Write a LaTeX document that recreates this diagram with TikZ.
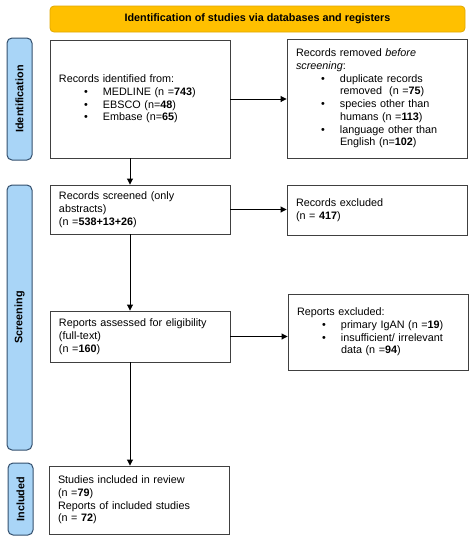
\documentclass[tikz,border=0pt]{standalone}
\usepackage{fontspec}
\setmainfont{Liberation Sans}
\usetikzlibrary{arrows.meta}
\definecolor{bannerfill}{HTML}{FFC000}
\definecolor{bannerdraw}{HTML}{E0A800}
\definecolor{labelfill}{HTML}{A9D5F7}
\definecolor{labeldraw}{HTML}{34506E}
\definecolor{boxdraw}{HTML}{404040}
\newcommand{\bl}[1]{\hspace*{25pt}\makebox[19pt][l]{\textbullet}#1}
\newcommand{\cl}[1]{\hspace*{44pt}#1}
\begin{document}
\begin{tikzpicture}[x=1pt,y=-1pt,
  txt/.style={font=\fontsize{10.8}{12.7}\selectfont},
  box/.style={txt,draw=boxdraw,line width=0.9pt,fill=white,text width=162pt,inner xsep=9pt,inner ysep=0pt,align=left},
  banner/.style={draw=bannerdraw,fill=bannerfill,rounded corners=4pt,line width=0.8pt,minimum width=415pt,minimum height=26pt,font=\fontsize{10.8}{12}\selectfont\bfseries},
  phase/.style={draw=labeldraw,fill=labelfill,rounded corners=5pt,line width=1pt,minimum width=25pt,inner sep=0pt},
  phasetext/.style={rotate=90,font=\fontsize{10.8}{12}\selectfont\bfseries},
  arr/.style={draw=black,line width=0.9pt,-{Triangle[length=6pt,width=6pt]}}]
\useasboundingbox (0,0) rectangle (474,542);
\node[banner] (ban) at (257.5,19) {Identification of studies via databases and registers};
\node[phase,minimum height=122pt] (pid) at (19.5,99) {};
\node[phasetext] (tid) at (pid.center) {Identification};
\node[phase,minimum height=265pt] (psc) at (19.5,317.5) {};
\node[phasetext] (tsc) at (psc.center) {Screening};
\node[phase,minimum height=72pt] (pin) at (20.5,499) {};
\node[phasetext] (tin) at (pin.center) {Included};

\node[box,minimum height=118pt] (b1) at (140,99) {Records identified from:\\
\bl{MEDLINE (n =\textbf{743})}\\
\bl{EBSCO (n=\textbf{48})}\\
\bl{Embase (n=\textbf{65})}};
\node[box,minimum height=119pt] (b2) at (377,98.5) {Records removed \textit{before}\\
\textit{screening}:\\
\bl{duplicate records}\\
\cl{removed\ \ (n =\textbf{75})}\\
\bl{species other than}\\
\cl{humans (n =\textbf{113})}\\
\bl{language other than}\\
\cl{English (n=\textbf{102})}};
\node[box,minimum height=49pt] (b3) at (140,209.5) {Records screened (only\\abstracts)\\(n =\textbf{538+13+26})};
\node[box,minimum height=50pt] (b4) at (377,210) {Records excluded\\(n = \textbf{417})};
\node[box,minimum height=51pt] (b5) at (140,336.5) {Reports assessed for eligibility\\(full-text)\\(n =\textbf{160})};
\node[box,minimum height=76pt] (b6) at (378,332) {Reports excluded:\\
\bl{primary IgAN (n =\textbf{19})}\\
\bl{insufficient/ irrelevant}\\
\cl{data (n =\textbf{94})}};
\node[box,minimum height=68pt] (b7) at (139,500) {Studies included in review\\(n =\textbf{79})\\Reports of included studies\\(n = \textbf{72})};

\coordinate (xl) at (130,0);
\draw[arr] (b1.south -| xl) -- (b3.north -| xl);
\draw[arr] (b3.south -| xl) -- (b5.north -| xl);
\draw[arr] (b5.south -| xl) -- (b7.north -| xl);
\draw[arr] (b1.east) -- (b1.east -| b2.west);
\draw[arr] (b3.east) -- (b3.east -| b4.west);
\draw[arr] (b5.east) -- (b5.east -| b6.west);
\end{tikzpicture}
\end{document}
